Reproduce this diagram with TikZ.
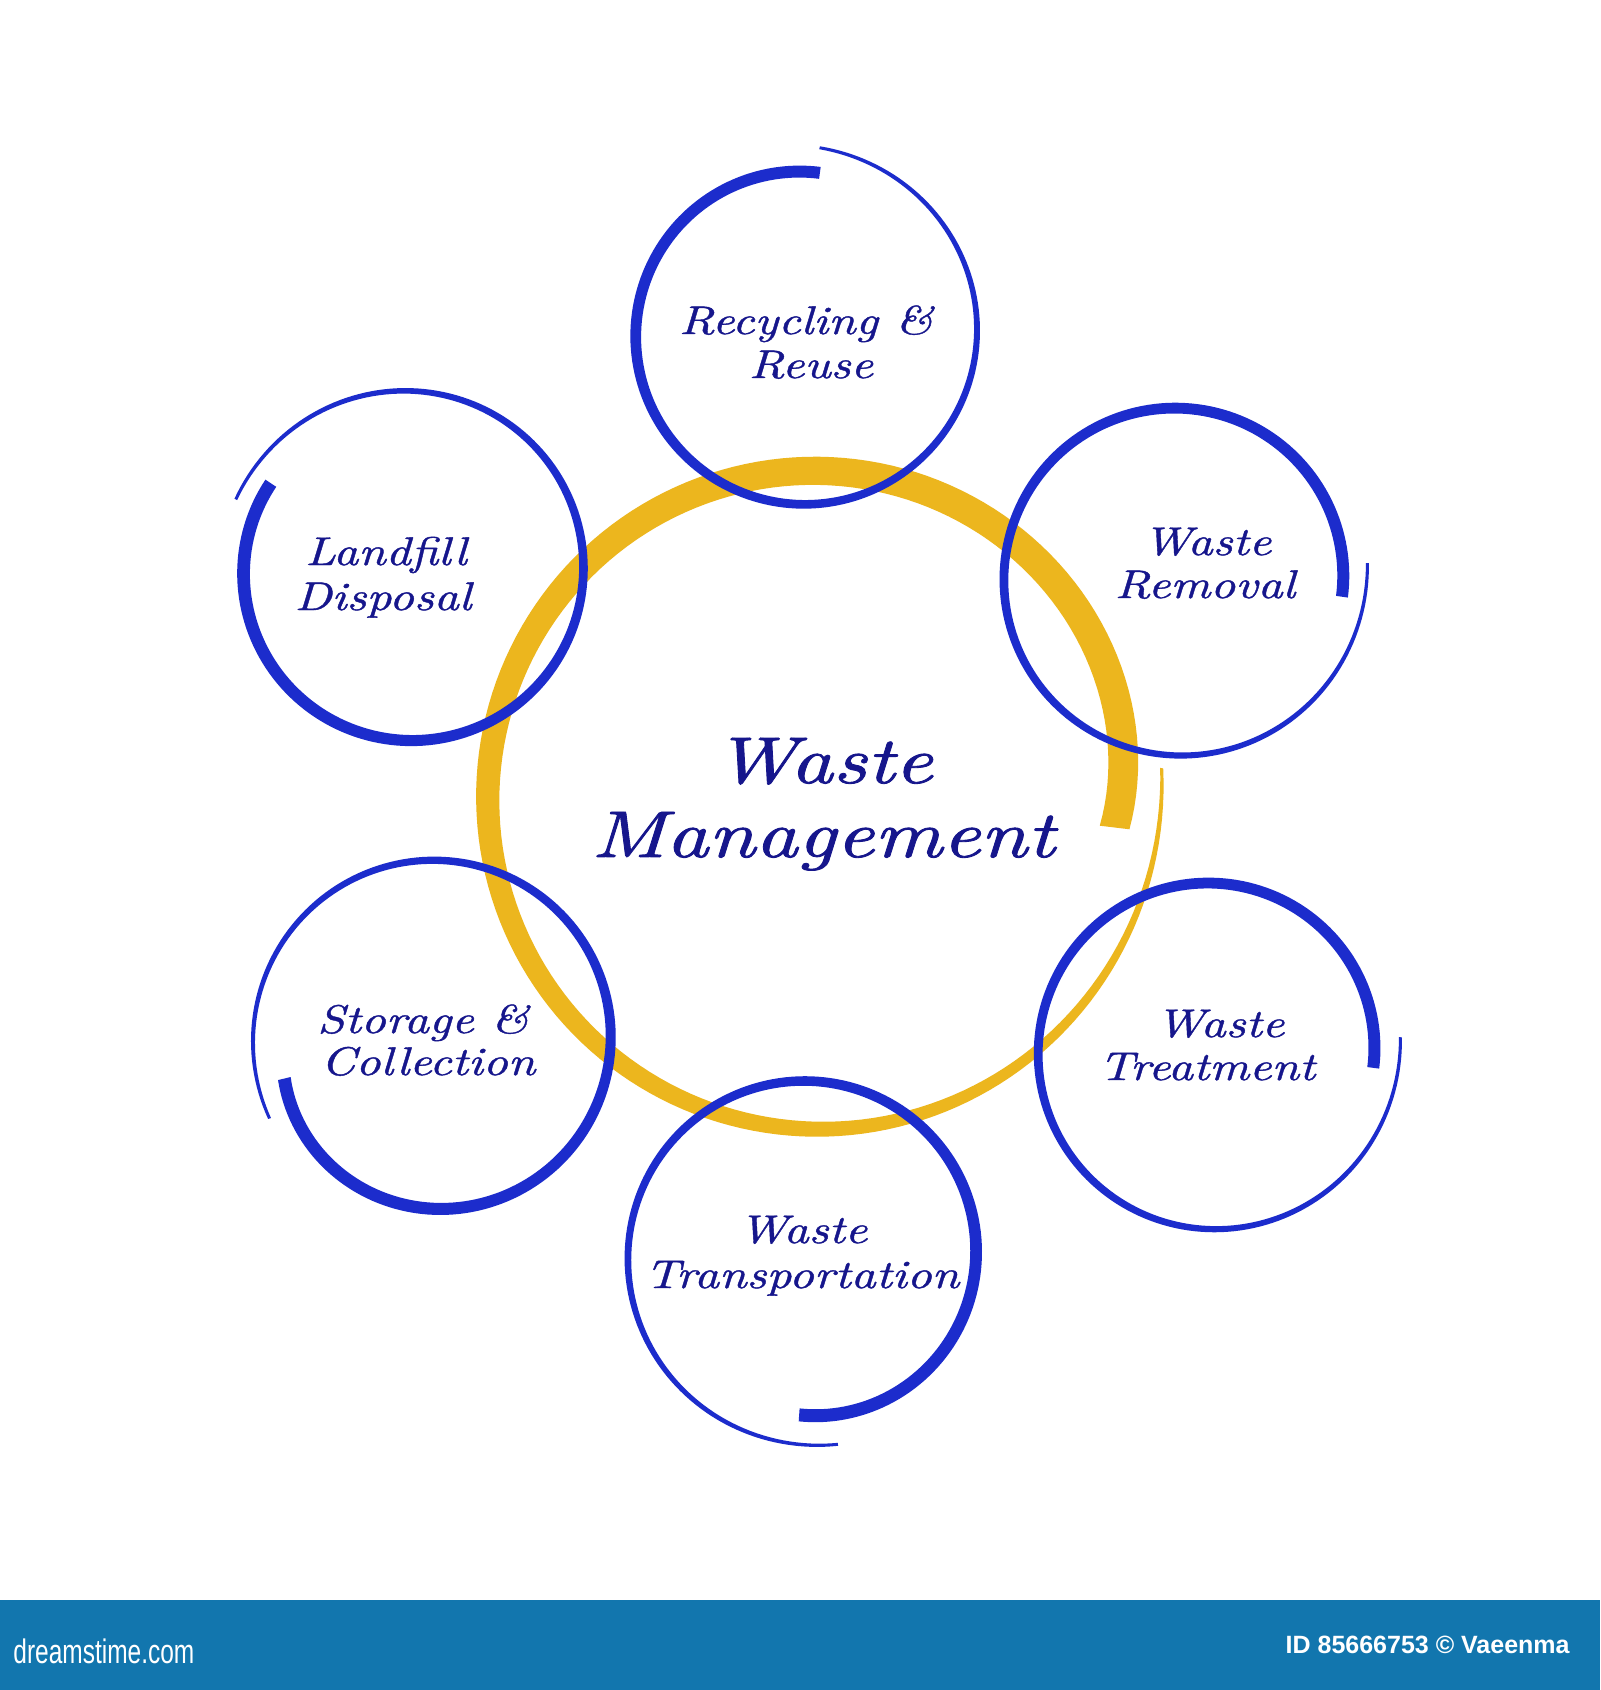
\documentclass[tikz,border=0pt]{standalone}
\usepackage{fontspec}
\newfontfamily\lblfont{lmroman10-italic.otf}[FakeStretch=1.22,FakeBold=1.0]
\newfontfamily\ctrfont{lmroman10-italic.otf}[FakeStretch=1.26,FakeBold=1.3]
\newfontfamily\logofont{Liberation Sans}[FakeStretch=0.72]
\newfontfamily\idfont{Liberation Sans Bold}
\definecolor{ringblue}{RGB}{28,44,204}
\definecolor{textnavy}{RGB}{22,22,140}
\definecolor{ringyellow}{RGB}{236,182,30}
\definecolor{footerblue}{RGB}{18,118,174}
\pgfkeys{/brush/.is family}
\pgfkeys{/brush/.cd,
  cx/.store in=\rgCX, cy/.store in=\rgCY,
  a/.store in=\rgAS, b/.store in=\rgAE,
  r0/.store in=\rgRS, rm/.store in=\rgRM, r1/.store in=\rgRE,
  w0/.store in=\rgWS, w1/.store in=\rgWE,
  p/.store in=\rgP, q/.store in=\rgQ, e/.store in=\rgE}
\def\rgT{(\rgAS+(\rgAE-\rgAS)*\x)}
\def\rgR{(\rgRM+(\rgRS-\rgRM)*(abs(1-\x))^\rgP+(\rgRE-\rgRM)*(abs(\x))^\rgQ)}
\def\rgW{(\rgWE+(\rgWS-\rgWE)*(1-(abs(\x))^\rgE))}
\newcommand\brushring[2]{%
  \pgfkeys{/brush/.cd,p=4,q=4,e=2,#2}%
  \fill[#1] plot[domain=0:1,samples=180]
      ({\rgCX+(\rgR+0.5*\rgW)*cos(\rgT)},{\rgCY+(\rgR+0.5*\rgW)*sin(\rgT)})
    -- plot[domain=1:0,samples=180]
      ({\rgCX+(\rgR-0.5*\rgW)*cos(\rgT)},{\rgCY+(\rgR-0.5*\rgW)*sin(\rgT)})
    -- cycle;}
\tikzset{
  lbl/.style={font=\lblfont\fontsize{20}{24}\selectfont, text=textnavy, anchor=base, inner sep=0pt},
  ctr/.style={font=\ctrfont\fontsize{33}{40}\selectfont, text=textnavy, anchor=base, inner sep=0pt},
  logo/.style={font=\logofont\fontsize{17}{20}\selectfont, text=white, inner sep=0pt},
  idtxt/.style={font=\idfont\fontsize{12.5}{15}\selectfont, text=white, inner sep=0pt}
}
\begin{document}
\begin{tikzpicture}[x=0.5pt,y=-0.5pt]
\useasboundingbox (0,0) rectangle (1600,1690);
\fill[white] (0,0) rectangle (1600,1690);
% ring centres
\coordinate (hub) at (816,798);
\coordinate (ringRecycling) at (803,335);
\coordinate (ringLandfill) at (410,570);
\coordinate (ringRemoval) at (1176,578);
\coordinate (ringStorage) at (435,1038);
\coordinate (ringTreatment) at (1210,1052);
\coordinate (ringTransport) at (806,1254);
% central yellow brush ring
\brushring{ringyellow}{cx=816,cy=798,a=5.7,b=-365,r0=300,rm=328,r1=347,w0=30,w1=3,p=12,q=6,e=2}
% blue brush rings
\brushring{ringblue}{cx=803,cy=335,a=276,b=-85,r0=163,rm=169,r1=188,w0=12,w1=3,q=5,e=1.5}
\brushring{ringblue}{cx=410,cy=570,a=212,b=-158,r0=164,rm=172,r1=188,w0=13,w1=3,e=1.5}
\brushring{ringblue}{cx=1176,cy=578,a=6.5,b=-364.5,r0=167,rm=171,r1=192,w0=12,w1=3,e=1.5}
\brushring{ringblue}{cx=435,cy=1038,a=165,b=-206,r0=156,rm=176,r1=184,w0=13,w1=3,p=6,e=1.5}
\brushring{ringblue}{cx=1210,cy=1052,a=5.6,b=-364.5,r0=164,rm=171,r1=191,w0=12,w1=3,e=1.5}
\brushring{ringblue}{cx=806,cy=1254,a=92.5,b=-279.6,r0=161,rm=172,r1=193,w0=13,w1=3,p=6,e=1.5}
% labels
\node[ctr] (wmA) at (823,783) {Waste};
\node[ctr] (wmB) at (823,857) {Management};
\node[lbl] (recA) at (806,334) {Recycling \&};
\node[lbl] (recB) at (811,378) {Reuse};
\node[lbl] (lanA) at (386,565) {Landfill};
\node[lbl] (lanB) at (383,610) {Disposal};
\node[lbl] (remA) at (1207,555) {Waste};
\node[lbl] (remB) at (1205,598) {Removal};
\node[lbl] (stoA) at (423,1033) {Storage \&};
\node[lbl] (stoB) at (428,1075) {Collection};
\node[lbl] (treA) at (1220,1037) {Waste};
\node[lbl] (treB) at (1207,1080) {Treatment};
\node[lbl] (traA) at (803,1243) {Waste};
\node[lbl] (traB) at (802,1288) {Transportation};
% footer
\fill[footerblue] (0,1600) rectangle (1600,1690);
\node[logo, anchor=base west] (logo) at (13,1663) {dreamstime.com};
\node[idtxt, anchor=base east] (imgid) at (1570,1653) {ID 85666753 © Vaeenma};
\end{tikzpicture}
\end{document}
